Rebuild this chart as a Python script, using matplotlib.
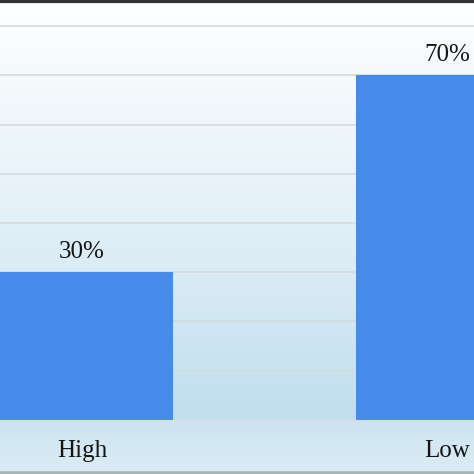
import numpy as np
import matplotlib.pyplot as plt
from matplotlib.colors import LinearSegmentedColormap

# data
categories = ["High", "Low"]
values = [30, 70]
grid_ticks = [0, 10, 20, 30, 40, 50, 60, 70, 80]

bar_color = "#468bea"
x = np.arange(len(categories))

fig = plt.figure(figsize=(4.74, 4.74), dpi=100)
ax = fig.add_axes([0, 0, 1, 1])
ax.set_xlim(-0.225, 1.074)
ax.set_ylim(-11.0, 85.3)

# background gradients: plot area and the label strip under the baseline
top_cmap = LinearSegmentedColormap.from_list("top", ["#c0deee", "#e4f1f8", "#ffffff"])
grad = np.linspace(0, 1, 256).reshape(-1, 1)
ax.imshow(grad, cmap=top_cmap, aspect="auto", origin="lower",
          extent=[-0.225, 1.074, 0, 85.3], zorder=0)
bot_cmap = LinearSegmentedColormap.from_list("bot", ["#dcedf5", "#cbe4f1"])
ax.imshow(grad, cmap=bot_cmap, aspect="auto", origin="lower",
          extent=[-0.225, 1.074, -11.0, 0], zorder=0)

for t in grid_ticks:
    ax.axhline(t, color="#d6dcdf", lw=1.3, zorder=1)

ax.bar(x, values, width=0.5, color=bar_color, zorder=2)

for xi, v in zip(x, values):
    ax.text(xi, v + 2.9, f"{v}%", ha="center", va="baseline",
            family="Liberation Serif", fontsize=18, color="#151515", zorder=3)
for xi, c in zip(x, categories):
    ax.text(xi, -7.5, c, ha="center", va="baseline",
            family="Liberation Serif", fontsize=18, color="#151515", zorder=3)

# frame lines at the top and bottom of the crop
ax.axhline(85.3, color="#333333", lw=4.5, zorder=4)
ax.axhline(-11.0, color="#a9b3b5", lw=4, zorder=4)

ax.set_xticks([])
ax.set_yticks([])
for s in ax.spines.values():
    s.set_visible(False)

fig.savefig("out.png", dpi=100)
